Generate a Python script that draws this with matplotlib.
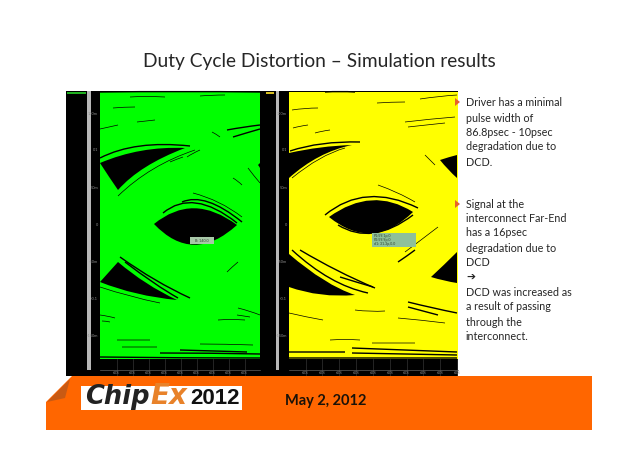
import numpy as np
import matplotlib
matplotlib.use("Agg")
import matplotlib.pyplot as plt
from matplotlib.patches import Polygon, Rectangle, PathPatch
from matplotlib.path import Path

plt.rcParams['font.family'] = ['Lato', 'DejaVu Sans']

W, H = 638, 451

# Texto de la diapositiva
titulo = "Duty Cycle Distortion \u2013 Simulation results"
fecha = "May 2, 2012"
lineas = ["Driver has a minimal", "pulse width of", "86.8psec - 10psec",
          "degradation due to", "DCD.", "Signal at the",
          "interconnect Far-End", "has a 16psec", "degradation due to",
          "DCD", "\u2794", "DCD was increased as", "a result of passing",
          "through the", "interconnect."]
lineas_y = [103, 118, 133, 147, 162, 204, 219, 233, 248, 262, 277, 292, 307, 322, 336]
bullets_y = [102, 204]

ticks_y = ["100m", "0.1", "50m", "0", "-50m", "-0.1", "-150m"]
ticks_y_pos = [114, 150, 188, 225, 262, 299, 336]

# Huecos negros del ojo: punto, control, punto, control, ... (curvas cuadraticas, cierra al inicio)
ojo_verde = [
    [(100, 163), (109, 177), (118, 190), (140, 165), (185, 148), (140, 146), (100, 163)],
    [(154, 224), (193, 192), (237, 225), (193, 265), (154, 224)],
    [(100, 282), (109, 272), (118, 262), (145, 285), (177, 300), (135, 296), (100, 282)],
    [(258, 165), (259, 164), (260, 163), (260, 165), (260, 168), (259, 166), (258, 165)],
]
ojo_amarillo = [
    [(289, 153), (320, 146), (352, 145), (318, 152), (289, 178), (289, 165), (289, 153)],
    [(329, 217), (372, 186), (413, 212), (372, 252), (329, 217)],
    [(289, 254), (325, 285), (355, 295), (320, 298), (289, 287), (289, 270), (289, 254)],
    [(440, 160), (449, 157), (457, 155), (457, 166), (457, 178), (448, 170), (440, 160)],
    [(431, 277), (444, 265), (457, 252), (457, 268), (457, 283), (444, 281), (431, 277)],
]

# Trazos negros: inicio, control, fin
trazos_verde_gruesos = [
    [(227, 130), (243, 127), (260, 125)], [(233, 137), (246, 133), (260, 129)],
    [(100, 158), (135, 140), (190, 146)], [(163, 213), (193, 188), (237, 223)],
    [(182, 202), (205, 192), (242, 222)], [(120, 257), (155, 282), (190, 298)],
    [(125, 262), (155, 285), (178, 298)], [(160, 353), (210, 353), (260, 354)],
    [(100, 357), (180, 358), (260, 358)], [(180, 350), (215, 351), (247, 352)],
    [(100, 92), (180, 91), (260, 92)],
]
trazos_verde_finos = [
    [(100, 129), (109, 127), (118, 125)], [(137, 122), (146, 121), (155, 120)],
    [(113, 108), (124, 107), (135, 107)], [(187, 157), (193, 153), (200, 150)],
    [(170, 162), (177, 159), (183, 157)], [(212, 132), (216, 134), (220, 137)],
    [(233, 178), (238, 181), (242, 185)], [(248, 168), (254, 176), (260, 183)],
    [(193, 193), (220, 200), (242, 217)], [(118, 196), (150, 165), (195, 150)],
    [(100, 287), (130, 297), (160, 303)], [(100, 315), (108, 316), (115, 318)],
    [(102, 321), (106, 321), (110, 322)], [(227, 272), (232, 267), (238, 262)],
    [(237, 315), (244, 316), (250, 317)], [(238, 308), (250, 311), (260, 315)],
    [(117, 340), (135, 340), (150, 340)], [(122, 347), (140, 347), (157, 347)],
    [(200, 344), (225, 344), (253, 345)], [(130, 97), (145, 96), (165, 97)],
    [(200, 96), (212, 95), (225, 95)], [(218, 320), (230, 319), (245, 320)],
]
trazos_amarillo_gruesos = [
    [(290, 151), (320, 141), (360, 142)], [(325, 215), (365, 182), (418, 208)],
    [(338, 225), (372, 246), (413, 215)], [(398, 262), (407, 256), (415, 250)],
    [(292, 250), (330, 285), (368, 293)], [(300, 250), (337, 272), (375, 288)],
    [(340, 277), (356, 282), (373, 287)], [(408, 302), (432, 308), (457, 313)],
    [(408, 307), (423, 311), (438, 315)], [(289, 352), (317, 352), (345, 352)],
    [(352, 348), (405, 350), (457, 352)], [(352, 353), (405, 354), (457, 355)],
    [(289, 358), (370, 358), (457, 358)], [(325, 92), (340, 91), (355, 92)],
]
trazos_amarillo_finos = [
    [(405, 122), (430, 119), (455, 117)], [(408, 127), (426, 125), (445, 123)],
    [(377, 103), (391, 102), (405, 102)], [(293, 128), (300, 126), (308, 125)],
    [(315, 133), (322, 131), (330, 130)], [(378, 185), (398, 192), (415, 202)],
    [(292, 178), (320, 155), (345, 148)], [(405, 252), (421, 240), (438, 227)],
    [(289, 313), (306, 317), (323, 320)], [(398, 318), (421, 320), (445, 323)],
    [(372, 343), (394, 343), (415, 343)], [(330, 340), (345, 339), (360, 340)],
    [(420, 99), (440, 96), (457, 95)], [(292, 110), (305, 108), (318, 108)],
    [(355, 310), (370, 312), (385, 311)], [(435, 165), (430, 160), (425, 155)],
]

fig = plt.figure(figsize=(W / 100, H / 100), dpi=100, facecolor="white")
ax = fig.add_axes([0, 0, 1, 1])
ax.set_xlim(0, W)
ax.set_ylim(H, 0)
ax.axis("off")


def rect(x0, y0, x1, y1, color, z=1):
    ax.add_patch(Rectangle((x0, y0), x1 - x0, y1 - y0, facecolor=color, edgecolor="none", zorder=z))


def curva(puntos):
    codes = [Path.MOVETO] + [Path.CURVE3] * (len(puntos) - 1)
    return Path(puntos, codes)


# Fondo negro de las capturas
rect(66, 91, 458, 376, "black")
rect(87, 91, 91, 370, "#b8b8b8", 2)
rect(276, 91, 279, 370, "#b8b8b8", 2)
rect(67, 92, 86, 94, "#20b020", 2)
rect(266, 92, 274, 94, "#d8c020", 2)


def panel(x0, x1, color, ojos, gruesos, finos):
    rect(x0, 92, x1, 359, color, 2)
    for p in ojos:
        ax.add_patch(PathPatch(curva(p), facecolor="black", edgecolor="none", zorder=3))
    for t in gruesos:
        ax.add_patch(PathPatch(curva(t), facecolor="none", edgecolor="black", linewidth=1.0, zorder=3))
    for t in finos:
        ax.add_patch(PathPatch(curva(t), facecolor="none", edgecolor="black", linewidth=0.5, zorder=3))
    for gx in np.arange(x0 + 16.5, x1, (x1 - x0) / 10):
        ax.plot([gx, gx], [359, 376], color="#404040", linewidth=0.4, zorder=2)
        ax.text(gx, 373, "60%", color="#909090", fontsize=2.5, ha="center", va="center", zorder=4)
    ax.plot([x0, x1], [370, 370], color="#606060", linewidth=0.5, zorder=3)


panel(100, 260, "#00ff00", ojo_verde, trazos_verde_gruesos, trazos_verde_finos)
panel(289, 457.5, "#ffff00", ojo_amarillo, trazos_amarillo_gruesos, trazos_amarillo_finos)

for x in [98, 287]:
    for t, y in zip(ticks_y, ticks_y_pos):
        ax.text(x, y, t, color="#909090", fontsize=2.8, ha="right", va="center", zorder=4)

# Cajas de medida
rect(190, 237, 214, 244, "#a8c8a8", 4)
ax.text(202, 240.5, "B: 140.0", color="#304030", fontsize=2.6, ha="center", va="center", zorder=5)
rect(372, 233, 416, 247, "#8fc09a", 4)
for y, t in zip([236, 240, 244], ["P1:59.1p,0", "P2:59.9p,0", "d1: 31.3p,0.0"]):
    ax.text(374, y, t, color="#304030", fontsize=2.6, ha="left", va="center", zorder=5)

# Banda naranja y logo
ax.add_patch(Polygon([(72, 376), (592, 376), (592, 430), (46, 430), (46, 402)],
                     closed=True, facecolor="#ff6600", edgecolor="none", zorder=5))
ax.add_patch(Polygon([(70, 379), (47, 402), (65, 398)],
                     closed=True, facecolor="#c85a14", edgecolor="none", zorder=6))
rect(81, 386, 242, 410, "white", 6)
ax.text(85, 404, "Chip", color="#222222", fontsize=18.5, fontweight="bold", style="italic",
        family="DejaVu Sans", ha="left", va="baseline", zorder=7)
ax.text(150, 404, "Ex", color="#e8822a", fontsize=20, fontweight="bold", style="italic",
        family="DejaVu Sans", ha="left", va="baseline", zorder=7)
ax.text(240, 404, "2012", color="#111111", fontsize=16, fontweight="bold",
        family="Liberation Sans", ha="right", va="baseline", zorder=7)
ax.text(285, 401, fecha, color="#1a1208", fontsize=10.5, fontweight="bold", ha="left", va="center", zorder=7)

# Titulo y texto lateral
ax.text(143, 61, titulo, color="#262626", fontsize=13.8, ha="left", va="center")
for t, y in zip(lineas, lineas_y):
    ax.text(466, y, t, color="#262626", fontsize=7.75, ha="left", va="center")
for y in bullets_y:
    ax.add_patch(Polygon([(455, y - 4), (460, y), (455, y + 4)], closed=True, facecolor="#e8622a",
                         edgecolor="none", zorder=6))

fig.savefig("out.png", dpi=100, facecolor="white")
